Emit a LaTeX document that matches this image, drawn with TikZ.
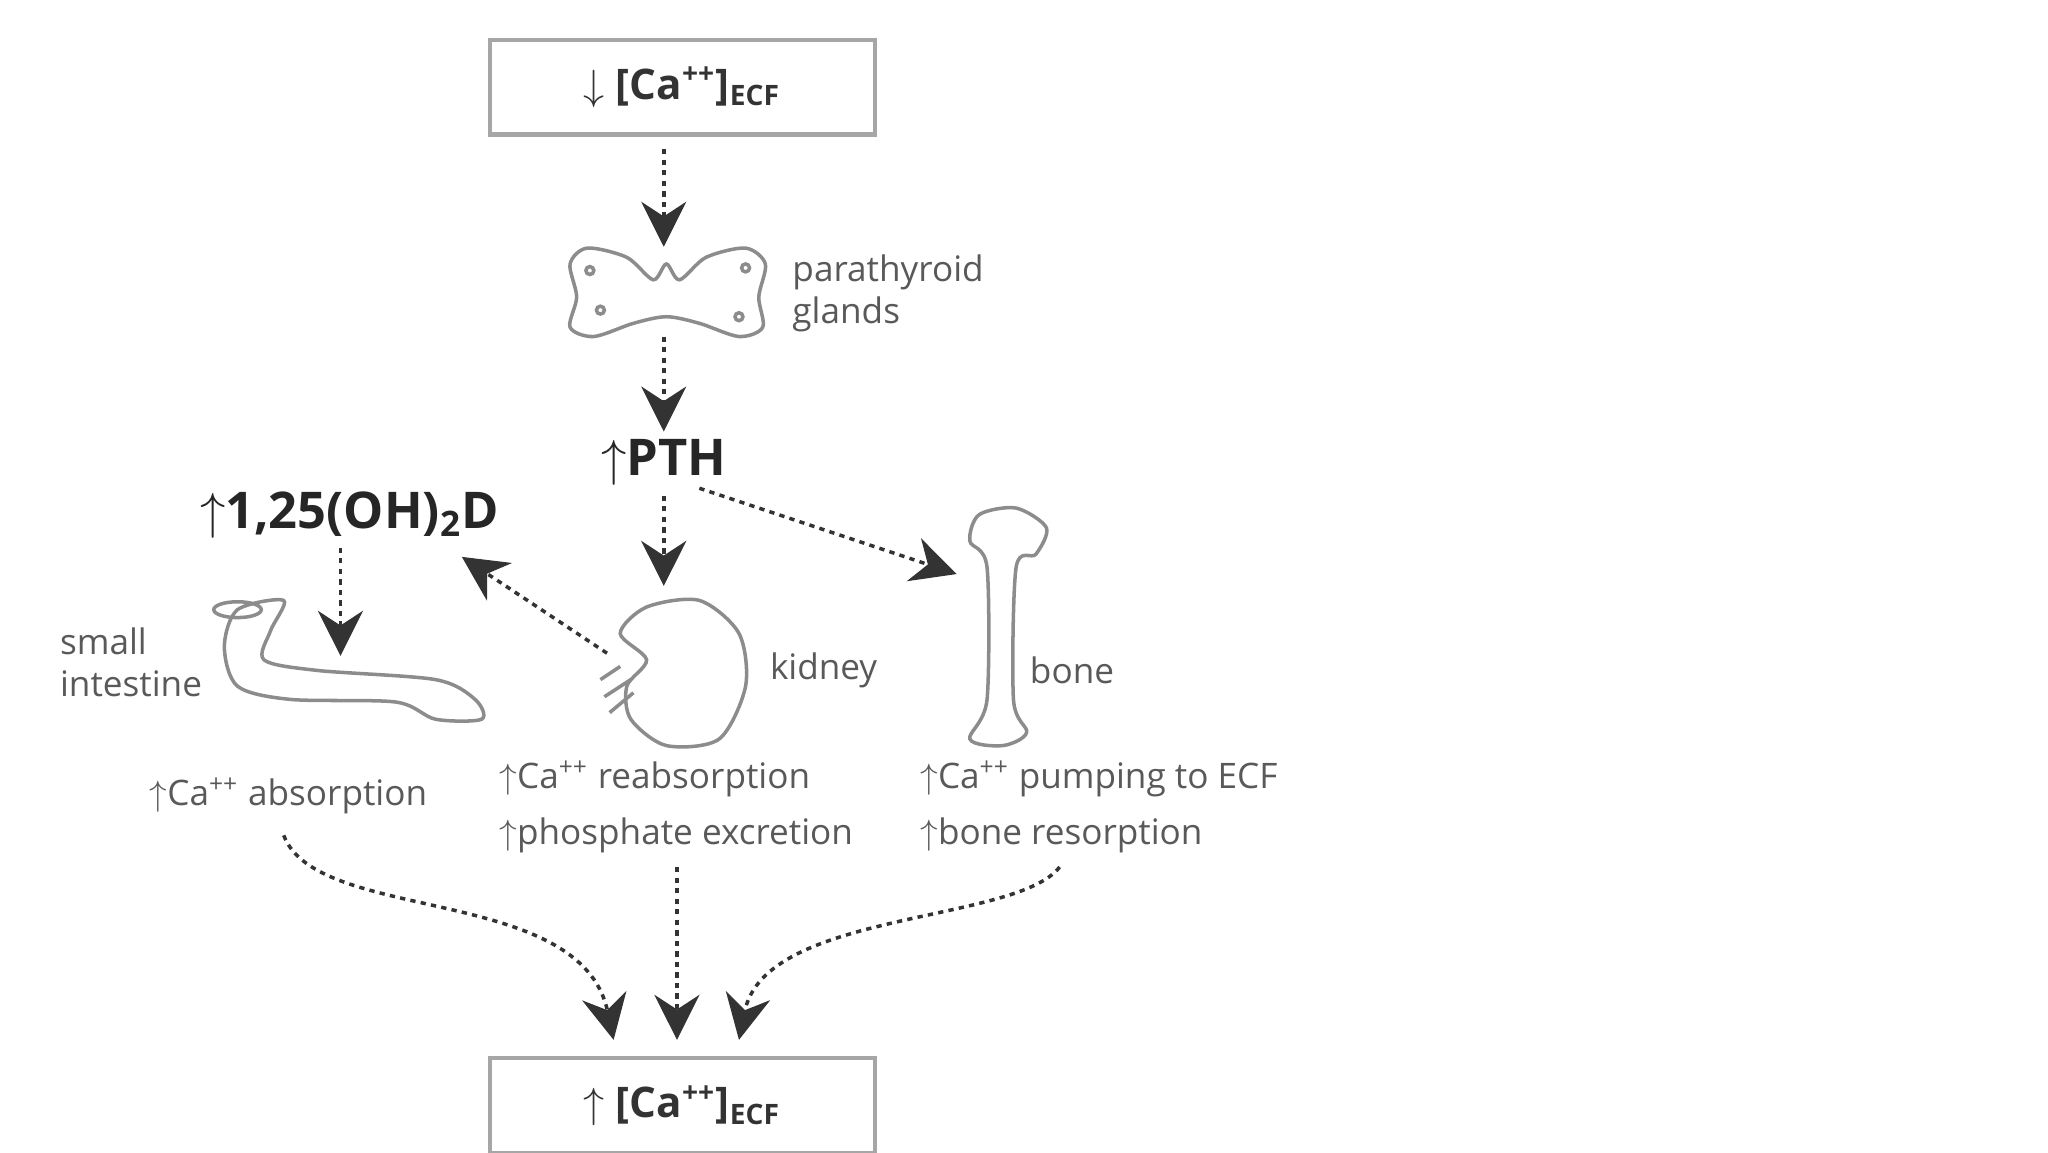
\documentclass[tikz,border=0pt]{standalone}
\usepackage{fontspec}
\setmainfont{Open Sans}
\usetikzlibrary{positioning,arrows.meta}
\tikzset{Box/.style={%
    draw=black!35,%
    line width=1.2pt,%
    minimum width=3.85cm,%
    minimum height=0.95cm,%
    font=\large\bfseries,%
    text=black!80,%
}}
\tikzset{Label/.style={%
    font=\normalsize,%
    text=black!65,%
    align=left,%
    inner sep=0pt,%
}}
\tikzset{Hormone/.style={%
    font=\Large\bfseries,%
    text=black!85,%
    inner sep=1pt,%
}}
\tikzset{DotArrow/.style={%
    -{Stealth[length=4.5mm,width=4.5mm]},%
    line width=1pt,%
    dash pattern=on 1.5pt off 1.5pt,%
    black!80,%
}}
\tikzset{Organ/.style={%
    draw=black!45,%
    line width=1pt,%
}}
\newcommand{\upar}{$\uparrow$}
\newcommand{\caion}{Ca\textsuperscript{++}}
\begin{document}
\begin{tikzpicture}[x=0.0132cm,y=-0.0132cm]
    \useasboundingbox (0,0) rectangle (1552,873);
    \node[Box] (top) at (517,66) {$\downarrow$\ [Ca\textsuperscript{++}]\textsubscript{ECF}};
    \node[Box] (bottom) at (517,838) {$\uparrow$\ [Ca\textsuperscript{++}]\textsubscript{ECF}};

    % organs
    \draw[Organ] plot[smooth cycle] coordinates {(432,200) (445,188) (475,195) (495,212) (505,200) (515,212) (535,195) (565,188) (580,200) (575,225) (578,248) (560,255) (530,245) (505,240) (480,245) (450,255) (432,248) (437,225)};
    \foreach \p in {(447,205),(565,203),(455,235),(560,240)}
        \draw[Organ] \p circle (3);
    \coordinate (glands) at (505,220);
    \draw[Organ] plot[smooth cycle] coordinates {(490,460) (530,455) (560,480) (565,520) (545,560) (505,565) (478,545) (475,520) (490,500) (470,480)};
    \draw[Organ] (470,505) -- (455,515) (478,515) -- (458,528) (480,525) -- (462,540);
    \coordinate (kidney) at (460,495);
    \draw[Organ] plot[smooth cycle] coordinates {(742,390) (770,385) (793,400) (785,420) (770,430) (768,530) (778,555) (760,565) (735,560) (748,530) (748,430) (735,410)};
    \coordinate (bone) at (725,435);
    \draw[Organ] plot[smooth cycle] coordinates {(180,462) (215,455) (205,478) (200,500) (240,508) (330,515) (360,530) (365,545) (330,545) (300,532) (220,530) (180,520) (170,490)};
    \draw[Organ] (180,462) ellipse (18 and 6);

    % labels
    \node[Label, anchor=west] (glandsLabel) at (600,222) {parathyroid\\glands};
    \node[Hormone] (pth) at (503,350) {\upar PTH};
    \node[Hormone] (vitd) at (265,390) {\upar 1,25(OH)\textsubscript{2}D};
    \node[Label, anchor=west] (intLabel) at (45,502) {small\\intestine};
    \node[Label, anchor=west] (kidLabel) at (583,508) {kidney};
    \node[Label, anchor=west] (boneLabel) at (780,508) {bone};
    \node[Label, anchor=west] (absorb) at (113,603) {\upar\caion\ absorption};
    \node[Label, anchor=west] (reabs) at (378,590) {\upar\caion\ reabsorption};
    \node[Label, anchor=west] (phos) at (378,633) {\upar phosphate excretion};
    \node[Label, anchor=west] (pump) at (697,590) {\upar\caion\ pumping to ECF};
    \node[Label, anchor=west] (resorb) at (697,633) {\upar bone resorption};

    \coordinate (inL) at (465,788);
    \coordinate (inM) at (513,788);
    \coordinate (inR) at (560,788);

    \draw[DotArrow] (503,113) -- (503,187);
    \draw[DotArrow] (503,255) -- (503,327);
    \draw[DotArrow] (pth.south) ++(0,5) -- (503,444);
    \draw[DotArrow] (530,370) -- (bone);
    \draw[DotArrow] (kidney) -- (350,422);
    \draw[DotArrow] (258,415) -- (258,497);
    \draw[DotArrow] (215,633) .. controls (240,700) and (440,670) .. (inL);
    \draw[DotArrow] (513,657) -- (inM);
    \draw[DotArrow] (803,657) .. controls (770,700) and (580,690) .. (inR);
\end{tikzpicture}
\end{document}
